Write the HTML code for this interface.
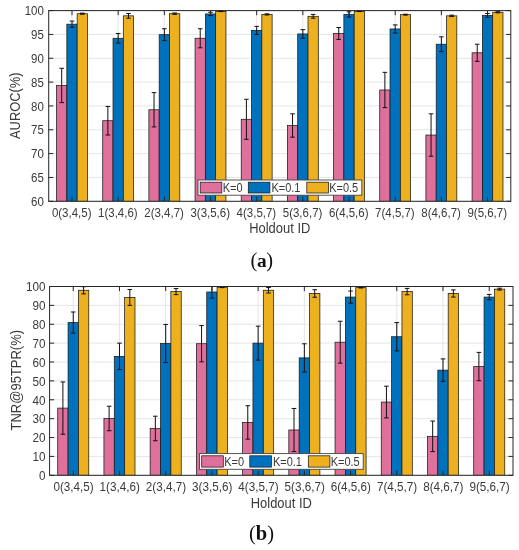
<!DOCTYPE html>
<html><head><meta charset="utf-8"><title>Figure</title>
<style>
html,body{margin:0;padding:0;background:#fff;}
body{width:519px;height:550px;overflow:hidden;}
svg{display:block;}
</style></head><body>
<svg width="519" height="550" viewBox="0 0 519 550">
<rect width="519" height="550" fill="#fff"/>
<g stroke="#e2e2e2" stroke-width="0.85">
<line x1="48.7" x2="510.8" y1="201.30" y2="201.30"/>
<line x1="48.7" x2="510.8" y1="177.46" y2="177.46"/>
<line x1="48.7" x2="510.8" y1="153.62" y2="153.62"/>
<line x1="48.7" x2="510.8" y1="129.79" y2="129.79"/>
<line x1="48.7" x2="510.8" y1="105.95" y2="105.95"/>
<line x1="48.7" x2="510.8" y1="82.11" y2="82.11"/>
<line x1="48.7" x2="510.8" y1="58.27" y2="58.27"/>
<line x1="48.7" x2="510.8" y1="34.44" y2="34.44"/>
<line x1="48.7" x2="510.8" y1="10.60" y2="10.60"/>
<line x1="72.00" x2="72.00" y1="10.6" y2="201.3"/>
<line x1="118.17" x2="118.17" y1="10.6" y2="201.3"/>
<line x1="164.34" x2="164.34" y1="10.6" y2="201.3"/>
<line x1="210.51" x2="210.51" y1="10.6" y2="201.3"/>
<line x1="256.68" x2="256.68" y1="10.6" y2="201.3"/>
<line x1="302.85" x2="302.85" y1="10.6" y2="201.3"/>
<line x1="349.02" x2="349.02" y1="10.6" y2="201.3"/>
<line x1="395.19" x2="395.19" y1="10.6" y2="201.3"/>
<line x1="441.36" x2="441.36" y1="10.6" y2="201.3"/>
<line x1="487.53" x2="487.53" y1="10.6" y2="201.3"/>
</g>
<clipPath id="cp1"><rect x="48.7" y="10.1" width="462.1" height="191.20000000000002"/></clipPath>
<g clip-path="url(#cp1)">
<rect x="56.55" y="85.45" width="10.30" height="115.85" fill="#DF6F9B" stroke="#1a1a1a" stroke-width="0.75"/>
<rect x="66.85" y="24.19" width="10.30" height="177.11" fill="#0072BD" stroke="#1a1a1a" stroke-width="0.75"/>
<rect x="77.15" y="13.70" width="10.30" height="187.60" fill="#EDB120" stroke="#1a1a1a" stroke-width="0.75"/>
<rect x="102.72" y="120.73" width="10.30" height="80.57" fill="#DF6F9B" stroke="#1a1a1a" stroke-width="0.75"/>
<rect x="113.02" y="38.25" width="10.30" height="163.05" fill="#0072BD" stroke="#1a1a1a" stroke-width="0.75"/>
<rect x="123.32" y="15.84" width="10.30" height="185.46" fill="#EDB120" stroke="#1a1a1a" stroke-width="0.75"/>
<rect x="148.89" y="109.76" width="10.30" height="91.54" fill="#DF6F9B" stroke="#1a1a1a" stroke-width="0.75"/>
<rect x="159.19" y="34.68" width="10.30" height="166.62" fill="#0072BD" stroke="#1a1a1a" stroke-width="0.75"/>
<rect x="169.49" y="13.70" width="10.30" height="187.60" fill="#EDB120" stroke="#1a1a1a" stroke-width="0.75"/>
<rect x="195.06" y="38.25" width="10.30" height="163.05" fill="#DF6F9B" stroke="#1a1a1a" stroke-width="0.75"/>
<rect x="205.36" y="13.94" width="10.30" height="187.36" fill="#0072BD" stroke="#1a1a1a" stroke-width="0.75"/>
<rect x="215.66" y="11.32" width="10.30" height="189.98" fill="#EDB120" stroke="#1a1a1a" stroke-width="0.75"/>
<rect x="241.23" y="119.30" width="10.30" height="82.00" fill="#DF6F9B" stroke="#1a1a1a" stroke-width="0.75"/>
<rect x="251.53" y="30.39" width="10.30" height="170.91" fill="#0072BD" stroke="#1a1a1a" stroke-width="0.75"/>
<rect x="261.83" y="14.41" width="10.30" height="186.89" fill="#EDB120" stroke="#1a1a1a" stroke-width="0.75"/>
<rect x="287.40" y="125.50" width="10.30" height="75.80" fill="#DF6F9B" stroke="#1a1a1a" stroke-width="0.75"/>
<rect x="297.70" y="33.96" width="10.30" height="167.34" fill="#0072BD" stroke="#1a1a1a" stroke-width="0.75"/>
<rect x="308.00" y="16.32" width="10.30" height="184.98" fill="#EDB120" stroke="#1a1a1a" stroke-width="0.75"/>
<rect x="333.57" y="33.48" width="10.30" height="167.82" fill="#DF6F9B" stroke="#1a1a1a" stroke-width="0.75"/>
<rect x="343.87" y="14.41" width="10.30" height="186.89" fill="#0072BD" stroke="#1a1a1a" stroke-width="0.75"/>
<rect x="354.17" y="11.32" width="10.30" height="189.98" fill="#EDB120" stroke="#1a1a1a" stroke-width="0.75"/>
<rect x="379.74" y="89.98" width="10.30" height="111.32" fill="#DF6F9B" stroke="#1a1a1a" stroke-width="0.75"/>
<rect x="390.04" y="28.95" width="10.30" height="172.35" fill="#0072BD" stroke="#1a1a1a" stroke-width="0.75"/>
<rect x="400.34" y="14.65" width="10.30" height="186.65" fill="#EDB120" stroke="#1a1a1a" stroke-width="0.75"/>
<rect x="425.91" y="135.03" width="10.30" height="66.27" fill="#DF6F9B" stroke="#1a1a1a" stroke-width="0.75"/>
<rect x="436.21" y="44.21" width="10.30" height="157.09" fill="#0072BD" stroke="#1a1a1a" stroke-width="0.75"/>
<rect x="446.51" y="15.84" width="10.30" height="185.46" fill="#EDB120" stroke="#1a1a1a" stroke-width="0.75"/>
<rect x="472.08" y="52.79" width="10.30" height="148.51" fill="#DF6F9B" stroke="#1a1a1a" stroke-width="0.75"/>
<rect x="482.38" y="15.37" width="10.30" height="185.93" fill="#0072BD" stroke="#1a1a1a" stroke-width="0.75"/>
<rect x="492.68" y="12.27" width="10.30" height="189.03" fill="#EDB120" stroke="#1a1a1a" stroke-width="0.75"/>
<path d="M61.70 68.29V102.61M59.40 68.29H64.00M59.40 102.61H64.00" stroke="#111" stroke-width="1" fill="none"/>
<path d="M72.00 21.09V27.29M69.70 21.09H74.30M69.70 27.29H74.30" stroke="#111" stroke-width="1" fill="none"/>
<path d="M82.30 13.13V14.27M80.00 13.13H84.60M80.00 14.27H84.60" stroke="#111" stroke-width="1" fill="none"/>
<path d="M107.87 106.43V135.03M105.57 106.43H110.17M105.57 135.03H110.17" stroke="#111" stroke-width="1" fill="none"/>
<path d="M118.17 33.48V43.02M115.87 33.48H120.47M115.87 43.02H120.47" stroke="#111" stroke-width="1" fill="none"/>
<path d="M128.47 13.46V18.23M126.17 13.46H130.77M126.17 18.23H130.77" stroke="#111" stroke-width="1" fill="none"/>
<path d="M154.04 92.60V126.93M151.74 92.60H156.34M151.74 126.93H156.34" stroke="#111" stroke-width="1" fill="none"/>
<path d="M164.34 28.72V40.64M162.04 28.72H166.64M162.04 40.64H166.64" stroke="#111" stroke-width="1" fill="none"/>
<path d="M174.64 12.98V14.41M172.34 12.98H176.94M172.34 14.41H176.94" stroke="#111" stroke-width="1" fill="none"/>
<path d="M200.21 28.72V47.79M197.91 28.72H202.51M197.91 47.79H202.51" stroke="#111" stroke-width="1" fill="none"/>
<path d="M210.51 12.27V15.61M208.21 12.27H212.81M208.21 15.61H212.81" stroke="#111" stroke-width="1" fill="none"/>
<path d="M220.81 11.08V11.55M218.51 11.08H223.11M218.51 11.55H223.11" stroke="#111" stroke-width="1" fill="none"/>
<path d="M246.38 99.28V139.32M244.08 99.28H248.68M244.08 139.32H248.68" stroke="#111" stroke-width="1" fill="none"/>
<path d="M256.68 26.33V34.44M254.38 26.33H258.98M254.38 34.44H258.98" stroke="#111" stroke-width="1" fill="none"/>
<path d="M266.98 13.84V14.99M264.68 13.84H269.28M264.68 14.99H269.28" stroke="#111" stroke-width="1" fill="none"/>
<path d="M292.55 113.82V137.18M290.25 113.82H294.85M290.25 137.18H294.85" stroke="#111" stroke-width="1" fill="none"/>
<path d="M302.85 29.67V38.25M300.55 29.67H305.15M300.55 38.25H305.15" stroke="#111" stroke-width="1" fill="none"/>
<path d="M313.15 14.41V18.23M310.85 14.41H315.45M310.85 18.23H315.45" stroke="#111" stroke-width="1" fill="none"/>
<path d="M338.72 27.52V39.44M336.42 27.52H341.02M336.42 39.44H341.02" stroke="#111" stroke-width="1" fill="none"/>
<path d="M349.02 11.79V17.04M346.72 11.79H351.32M346.72 17.04H351.32" stroke="#111" stroke-width="1" fill="none"/>
<path d="M359.32 11.08V11.55M357.02 11.08H361.62M357.02 11.55H361.62" stroke="#111" stroke-width="1" fill="none"/>
<path d="M384.89 72.34V107.62M382.59 72.34H387.19M382.59 107.62H387.19" stroke="#111" stroke-width="1" fill="none"/>
<path d="M395.19 24.90V33.01M392.89 24.90H397.49M392.89 33.01H397.49" stroke="#111" stroke-width="1" fill="none"/>
<path d="M405.49 14.18V15.13M403.19 14.18H407.79M403.19 15.13H407.79" stroke="#111" stroke-width="1" fill="none"/>
<path d="M431.06 113.82V156.25M428.76 113.82H433.36M428.76 156.25H433.36" stroke="#111" stroke-width="1" fill="none"/>
<path d="M441.36 36.82V51.60M439.06 36.82H443.66M439.06 51.60H443.66" stroke="#111" stroke-width="1" fill="none"/>
<path d="M451.66 15.13V16.56M449.36 15.13H453.96M449.36 16.56H453.96" stroke="#111" stroke-width="1" fill="none"/>
<path d="M477.23 44.21V61.37M474.93 44.21H479.53M474.93 61.37H479.53" stroke="#111" stroke-width="1" fill="none"/>
<path d="M487.53 13.46V17.27M485.23 13.46H489.83M485.23 17.27H489.83" stroke="#111" stroke-width="1" fill="none"/>
<path d="M497.83 11.70V12.84M495.53 11.70H500.13M495.53 12.84H500.13" stroke="#111" stroke-width="1" fill="none"/>
</g>
<rect x="48.7" y="10.6" width="462.1" height="190.70000000000002" fill="none" stroke="#262626" stroke-width="1"/>
<g stroke="#262626" stroke-width="1">
<line x1="48.7" x2="53.300000000000004" y1="201.30" y2="201.30"/>
<line x1="510.8" x2="506.2" y1="201.30" y2="201.30"/>
<line x1="48.7" x2="53.300000000000004" y1="177.46" y2="177.46"/>
<line x1="510.8" x2="506.2" y1="177.46" y2="177.46"/>
<line x1="48.7" x2="53.300000000000004" y1="153.62" y2="153.62"/>
<line x1="510.8" x2="506.2" y1="153.62" y2="153.62"/>
<line x1="48.7" x2="53.300000000000004" y1="129.79" y2="129.79"/>
<line x1="510.8" x2="506.2" y1="129.79" y2="129.79"/>
<line x1="48.7" x2="53.300000000000004" y1="105.95" y2="105.95"/>
<line x1="510.8" x2="506.2" y1="105.95" y2="105.95"/>
<line x1="48.7" x2="53.300000000000004" y1="82.11" y2="82.11"/>
<line x1="510.8" x2="506.2" y1="82.11" y2="82.11"/>
<line x1="48.7" x2="53.300000000000004" y1="58.27" y2="58.27"/>
<line x1="510.8" x2="506.2" y1="58.27" y2="58.27"/>
<line x1="48.7" x2="53.300000000000004" y1="34.44" y2="34.44"/>
<line x1="510.8" x2="506.2" y1="34.44" y2="34.44"/>
<line x1="48.7" x2="53.300000000000004" y1="10.60" y2="10.60"/>
<line x1="510.8" x2="506.2" y1="10.60" y2="10.60"/>
<line x1="72.00" x2="72.00" y1="10.6" y2="15.2"/>
<line x1="72.00" x2="72.00" y1="201.3" y2="196.70000000000002"/>
<line x1="118.17" x2="118.17" y1="10.6" y2="15.2"/>
<line x1="118.17" x2="118.17" y1="201.3" y2="196.70000000000002"/>
<line x1="164.34" x2="164.34" y1="10.6" y2="15.2"/>
<line x1="164.34" x2="164.34" y1="201.3" y2="196.70000000000002"/>
<line x1="210.51" x2="210.51" y1="10.6" y2="15.2"/>
<line x1="210.51" x2="210.51" y1="201.3" y2="196.70000000000002"/>
<line x1="256.68" x2="256.68" y1="10.6" y2="15.2"/>
<line x1="256.68" x2="256.68" y1="201.3" y2="196.70000000000002"/>
<line x1="302.85" x2="302.85" y1="10.6" y2="15.2"/>
<line x1="302.85" x2="302.85" y1="201.3" y2="196.70000000000002"/>
<line x1="349.02" x2="349.02" y1="10.6" y2="15.2"/>
<line x1="349.02" x2="349.02" y1="201.3" y2="196.70000000000002"/>
<line x1="395.19" x2="395.19" y1="10.6" y2="15.2"/>
<line x1="395.19" x2="395.19" y1="201.3" y2="196.70000000000002"/>
<line x1="441.36" x2="441.36" y1="10.6" y2="15.2"/>
<line x1="441.36" x2="441.36" y1="201.3" y2="196.70000000000002"/>
<line x1="487.53" x2="487.53" y1="10.6" y2="15.2"/>
<line x1="487.53" x2="487.53" y1="201.3" y2="196.70000000000002"/>
</g>
<g font-family="'Liberation Sans', Arial, sans-serif" fill="#3a3a3a" font-size="11.5">
<text transform="translate(43.9,205.96) scale(1,1.06)" text-anchor="end">60</text>
<text transform="translate(43.9,182.13) scale(1,1.06)" text-anchor="end">65</text>
<text transform="translate(43.9,158.29) scale(1,1.06)" text-anchor="end">70</text>
<text transform="translate(43.9,134.45) scale(1,1.06)" text-anchor="end">75</text>
<text transform="translate(43.9,110.61) scale(1,1.06)" text-anchor="end">80</text>
<text transform="translate(43.9,86.78) scale(1,1.06)" text-anchor="end">85</text>
<text transform="translate(43.9,62.94) scale(1,1.06)" text-anchor="end">90</text>
<text transform="translate(43.9,39.10) scale(1,1.06)" text-anchor="end">95</text>
<text transform="translate(43.9,15.26) scale(1,1.06)" text-anchor="end">100</text>
<text transform="translate(71.70,217.4) scale(1,1.06)" text-anchor="middle">0(3,4,5)</text>
<text transform="translate(117.87,217.4) scale(1,1.06)" text-anchor="middle">1(3,4,6)</text>
<text transform="translate(164.04,217.4) scale(1,1.06)" text-anchor="middle">2(3,4,7)</text>
<text transform="translate(210.21,217.4) scale(1,1.06)" text-anchor="middle">3(3,5,6)</text>
<text transform="translate(256.38,217.4) scale(1,1.06)" text-anchor="middle">4(3,5,7)</text>
<text transform="translate(302.55,217.4) scale(1,1.06)" text-anchor="middle">5(3,6,7)</text>
<text transform="translate(348.72,217.4) scale(1,1.06)" text-anchor="middle">6(4,5,6)</text>
<text transform="translate(394.89,217.4) scale(1,1.06)" text-anchor="middle">7(4,5,7)</text>
<text transform="translate(441.06,217.4) scale(1,1.06)" text-anchor="middle">8(4,6,7)</text>
<text transform="translate(487.23,217.4) scale(1,1.06)" text-anchor="middle">9(5,6,7)</text>
<text transform="translate(279.75,232.9) scale(1,1.11)" text-anchor="middle" font-size="12.95">Holdout ID</text>
<text transform="translate(19.8,105.70) rotate(-90) scale(1,1.08)" text-anchor="middle" font-size="12.9">AUROC(%)</text>
</g>
<rect x="198" y="180" width="163.8" height="15.199999999999989" fill="#fff" stroke="#444" stroke-width="0.9"/>
<rect x="200.20" y="182.20" width="21.6" height="10.80" fill="#DF6F9B" stroke="#1a1a1a" stroke-width="0.75"/>
<text transform="translate(222.70,192.28) scale(1,1.1)" font-family="'Liberation Sans', Arial, sans-serif" fill="#3a3a3a" font-size="11.0">K=0</text>
<rect x="248.30" y="182.20" width="21.6" height="10.80" fill="#0072BD" stroke="#1a1a1a" stroke-width="0.75"/>
<text transform="translate(271.40,192.28) scale(1,1.1)" font-family="'Liberation Sans', Arial, sans-serif" fill="#3a3a3a" font-size="11.0">K=0.1</text>
<rect x="306.80" y="182.20" width="21.6" height="10.80" fill="#EDB120" stroke="#1a1a1a" stroke-width="0.75"/>
<text transform="translate(329.20,192.28) scale(1,1.1)" font-family="'Liberation Sans', Arial, sans-serif" fill="#3a3a3a" font-size="11.0">K=0.5</text>
<text x="261.6" y="267.2" text-anchor="middle" font-family="'Liberation Serif', serif" font-size="20.5" fill="#111" letter-spacing="-0.35">(<tspan font-weight="bold" font-size="19.3">a</tspan>)</text>
<g stroke="#e2e2e2" stroke-width="0.85">
<line x1="49.6" x2="513.0" y1="475.30" y2="475.30"/>
<line x1="49.6" x2="513.0" y1="456.42" y2="456.42"/>
<line x1="49.6" x2="513.0" y1="437.54" y2="437.54"/>
<line x1="49.6" x2="513.0" y1="418.66" y2="418.66"/>
<line x1="49.6" x2="513.0" y1="399.78" y2="399.78"/>
<line x1="49.6" x2="513.0" y1="380.90" y2="380.90"/>
<line x1="49.6" x2="513.0" y1="362.02" y2="362.02"/>
<line x1="49.6" x2="513.0" y1="343.14" y2="343.14"/>
<line x1="49.6" x2="513.0" y1="324.26" y2="324.26"/>
<line x1="49.6" x2="513.0" y1="305.38" y2="305.38"/>
<line x1="49.6" x2="513.0" y1="286.50" y2="286.50"/>
<line x1="73.25" x2="73.25" y1="286.5" y2="475.3"/>
<line x1="119.47" x2="119.47" y1="286.5" y2="475.3"/>
<line x1="165.69" x2="165.69" y1="286.5" y2="475.3"/>
<line x1="211.91" x2="211.91" y1="286.5" y2="475.3"/>
<line x1="258.13" x2="258.13" y1="286.5" y2="475.3"/>
<line x1="304.35" x2="304.35" y1="286.5" y2="475.3"/>
<line x1="350.57" x2="350.57" y1="286.5" y2="475.3"/>
<line x1="396.79" x2="396.79" y1="286.5" y2="475.3"/>
<line x1="443.01" x2="443.01" y1="286.5" y2="475.3"/>
<line x1="489.23" x2="489.23" y1="286.5" y2="475.3"/>
</g>
<clipPath id="cp2"><rect x="49.6" y="286.0" width="463.4" height="189.3"/></clipPath>
<g clip-path="url(#cp2)">
<rect x="57.73" y="408.09" width="10.35" height="67.21" fill="#DF6F9B" stroke="#1a1a1a" stroke-width="0.75"/>
<rect x="68.08" y="322.56" width="10.35" height="152.74" fill="#0072BD" stroke="#1a1a1a" stroke-width="0.75"/>
<rect x="78.42" y="290.28" width="10.35" height="185.02" fill="#EDB120" stroke="#1a1a1a" stroke-width="0.75"/>
<rect x="103.94" y="418.47" width="10.35" height="56.83" fill="#DF6F9B" stroke="#1a1a1a" stroke-width="0.75"/>
<rect x="114.30" y="356.36" width="10.35" height="118.94" fill="#0072BD" stroke="#1a1a1a" stroke-width="0.75"/>
<rect x="124.64" y="297.45" width="10.35" height="177.85" fill="#EDB120" stroke="#1a1a1a" stroke-width="0.75"/>
<rect x="150.16" y="428.48" width="10.35" height="46.82" fill="#DF6F9B" stroke="#1a1a1a" stroke-width="0.75"/>
<rect x="160.51" y="343.52" width="10.35" height="131.78" fill="#0072BD" stroke="#1a1a1a" stroke-width="0.75"/>
<rect x="170.87" y="291.60" width="10.35" height="183.70" fill="#EDB120" stroke="#1a1a1a" stroke-width="0.75"/>
<rect x="196.38" y="343.71" width="10.35" height="131.59" fill="#DF6F9B" stroke="#1a1a1a" stroke-width="0.75"/>
<rect x="206.73" y="291.98" width="10.35" height="183.32" fill="#0072BD" stroke="#1a1a1a" stroke-width="0.75"/>
<rect x="217.09" y="287.26" width="10.35" height="188.04" fill="#EDB120" stroke="#1a1a1a" stroke-width="0.75"/>
<rect x="242.60" y="422.44" width="10.35" height="52.86" fill="#DF6F9B" stroke="#1a1a1a" stroke-width="0.75"/>
<rect x="252.95" y="343.14" width="10.35" height="132.16" fill="#0072BD" stroke="#1a1a1a" stroke-width="0.75"/>
<rect x="263.31" y="290.28" width="10.35" height="185.02" fill="#EDB120" stroke="#1a1a1a" stroke-width="0.75"/>
<rect x="288.83" y="429.99" width="10.35" height="45.31" fill="#DF6F9B" stroke="#1a1a1a" stroke-width="0.75"/>
<rect x="299.18" y="357.87" width="10.35" height="117.43" fill="#0072BD" stroke="#1a1a1a" stroke-width="0.75"/>
<rect x="309.53" y="293.49" width="10.35" height="181.81" fill="#EDB120" stroke="#1a1a1a" stroke-width="0.75"/>
<rect x="335.05" y="342.20" width="10.35" height="133.10" fill="#DF6F9B" stroke="#1a1a1a" stroke-width="0.75"/>
<rect x="345.39" y="297.07" width="10.35" height="178.23" fill="#0072BD" stroke="#1a1a1a" stroke-width="0.75"/>
<rect x="355.75" y="287.63" width="10.35" height="187.67" fill="#EDB120" stroke="#1a1a1a" stroke-width="0.75"/>
<rect x="381.26" y="402.05" width="10.35" height="73.25" fill="#DF6F9B" stroke="#1a1a1a" stroke-width="0.75"/>
<rect x="391.61" y="336.72" width="10.35" height="138.58" fill="#0072BD" stroke="#1a1a1a" stroke-width="0.75"/>
<rect x="401.96" y="291.60" width="10.35" height="183.70" fill="#EDB120" stroke="#1a1a1a" stroke-width="0.75"/>
<rect x="427.49" y="436.31" width="10.35" height="38.99" fill="#DF6F9B" stroke="#1a1a1a" stroke-width="0.75"/>
<rect x="437.83" y="370.14" width="10.35" height="105.16" fill="#0072BD" stroke="#1a1a1a" stroke-width="0.75"/>
<rect x="448.19" y="293.49" width="10.35" height="181.81" fill="#EDB120" stroke="#1a1a1a" stroke-width="0.75"/>
<rect x="473.71" y="366.55" width="10.35" height="108.75" fill="#DF6F9B" stroke="#1a1a1a" stroke-width="0.75"/>
<rect x="484.06" y="297.07" width="10.35" height="178.23" fill="#0072BD" stroke="#1a1a1a" stroke-width="0.75"/>
<rect x="494.41" y="289.14" width="10.35" height="186.16" fill="#EDB120" stroke="#1a1a1a" stroke-width="0.75"/>
<path d="M62.90 381.94V434.24M60.60 381.94H65.20M60.60 434.24H65.20" stroke="#111" stroke-width="1" fill="none"/>
<path d="M73.25 311.99V333.13M70.95 311.99H75.55M70.95 333.13H75.55" stroke="#111" stroke-width="1" fill="none"/>
<path d="M83.60 286.69V293.86M81.30 286.69H85.90M81.30 293.86H85.90" stroke="#111" stroke-width="1" fill="none"/>
<path d="M109.12 406.20V430.74M106.82 406.20H111.42M106.82 430.74H111.42" stroke="#111" stroke-width="1" fill="none"/>
<path d="M119.47 343.14V369.57M117.17 343.14H121.77M117.17 369.57H121.77" stroke="#111" stroke-width="1" fill="none"/>
<path d="M129.82 289.52V305.38M127.52 289.52H132.12M127.52 305.38H132.12" stroke="#111" stroke-width="1" fill="none"/>
<path d="M155.34 416.21V440.75M153.04 416.21H157.64M153.04 440.75H157.64" stroke="#111" stroke-width="1" fill="none"/>
<path d="M165.69 324.45V362.59M163.39 324.45H167.99M163.39 362.59H167.99" stroke="#111" stroke-width="1" fill="none"/>
<path d="M176.04 288.58V294.62M173.74 288.58H178.34M173.74 294.62H178.34" stroke="#111" stroke-width="1" fill="none"/>
<path d="M201.56 325.58V361.83M199.26 325.58H203.86M199.26 361.83H203.86" stroke="#111" stroke-width="1" fill="none"/>
<path d="M211.91 285.84V298.11M209.61 285.84H214.21M209.61 298.11H214.21" stroke="#111" stroke-width="1" fill="none"/>
<path d="M222.26 286.88V287.63M219.96 286.88H224.56M219.96 287.63H224.56" stroke="#111" stroke-width="1" fill="none"/>
<path d="M247.78 405.73V439.14M245.48 405.73H250.08M245.48 439.14H250.08" stroke="#111" stroke-width="1" fill="none"/>
<path d="M258.13 326.15V360.13M255.83 326.15H260.43M255.83 360.13H260.43" stroke="#111" stroke-width="1" fill="none"/>
<path d="M268.48 287.54V293.01M266.18 287.54H270.78M266.18 293.01H270.78" stroke="#111" stroke-width="1" fill="none"/>
<path d="M294.00 408.46V451.51M291.70 408.46H296.30M291.70 451.51H296.30" stroke="#111" stroke-width="1" fill="none"/>
<path d="M304.35 343.80V371.93M302.05 343.80H306.65M302.05 371.93H306.65" stroke="#111" stroke-width="1" fill="none"/>
<path d="M314.70 289.71V297.26M312.40 289.71H317.00M312.40 297.26H317.00" stroke="#111" stroke-width="1" fill="none"/>
<path d="M340.22 321.24V363.15M337.92 321.24H342.52M337.92 363.15H342.52" stroke="#111" stroke-width="1" fill="none"/>
<path d="M350.57 291.03V303.11M348.27 291.03H352.87M348.27 303.11H352.87" stroke="#111" stroke-width="1" fill="none"/>
<path d="M360.92 287.26V288.01M358.62 287.26H363.22M358.62 288.01H363.22" stroke="#111" stroke-width="1" fill="none"/>
<path d="M386.44 386.19V417.90M384.14 386.19H388.74M384.14 417.90H388.74" stroke="#111" stroke-width="1" fill="none"/>
<path d="M396.79 322.56V350.88M394.49 322.56H399.09M394.49 350.88H399.09" stroke="#111" stroke-width="1" fill="none"/>
<path d="M407.14 288.39V294.81M404.84 288.39H409.44M404.84 294.81H409.44" stroke="#111" stroke-width="1" fill="none"/>
<path d="M432.66 421.02V451.61M430.36 421.02H434.96M430.36 451.61H434.96" stroke="#111" stroke-width="1" fill="none"/>
<path d="M443.01 358.90V381.37M440.71 358.90H445.31M440.71 381.37H445.31" stroke="#111" stroke-width="1" fill="none"/>
<path d="M453.36 289.90V297.07M451.06 289.90H455.66M451.06 297.07H455.66" stroke="#111" stroke-width="1" fill="none"/>
<path d="M478.88 352.39V380.71M476.58 352.39H481.18M476.58 380.71H481.18" stroke="#111" stroke-width="1" fill="none"/>
<path d="M489.23 294.43V299.72M486.93 294.43H491.53M486.93 299.72H491.53" stroke="#111" stroke-width="1" fill="none"/>
<path d="M499.58 288.20V290.09M497.28 288.20H501.88M497.28 290.09H501.88" stroke="#111" stroke-width="1" fill="none"/>
</g>
<rect x="49.6" y="286.5" width="463.4" height="188.8" fill="none" stroke="#262626" stroke-width="1"/>
<g stroke="#262626" stroke-width="1">
<line x1="49.6" x2="54.2" y1="475.30" y2="475.30"/>
<line x1="513.0" x2="508.4" y1="475.30" y2="475.30"/>
<line x1="49.6" x2="54.2" y1="456.42" y2="456.42"/>
<line x1="513.0" x2="508.4" y1="456.42" y2="456.42"/>
<line x1="49.6" x2="54.2" y1="437.54" y2="437.54"/>
<line x1="513.0" x2="508.4" y1="437.54" y2="437.54"/>
<line x1="49.6" x2="54.2" y1="418.66" y2="418.66"/>
<line x1="513.0" x2="508.4" y1="418.66" y2="418.66"/>
<line x1="49.6" x2="54.2" y1="399.78" y2="399.78"/>
<line x1="513.0" x2="508.4" y1="399.78" y2="399.78"/>
<line x1="49.6" x2="54.2" y1="380.90" y2="380.90"/>
<line x1="513.0" x2="508.4" y1="380.90" y2="380.90"/>
<line x1="49.6" x2="54.2" y1="362.02" y2="362.02"/>
<line x1="513.0" x2="508.4" y1="362.02" y2="362.02"/>
<line x1="49.6" x2="54.2" y1="343.14" y2="343.14"/>
<line x1="513.0" x2="508.4" y1="343.14" y2="343.14"/>
<line x1="49.6" x2="54.2" y1="324.26" y2="324.26"/>
<line x1="513.0" x2="508.4" y1="324.26" y2="324.26"/>
<line x1="49.6" x2="54.2" y1="305.38" y2="305.38"/>
<line x1="513.0" x2="508.4" y1="305.38" y2="305.38"/>
<line x1="49.6" x2="54.2" y1="286.50" y2="286.50"/>
<line x1="513.0" x2="508.4" y1="286.50" y2="286.50"/>
<line x1="73.25" x2="73.25" y1="286.5" y2="291.1"/>
<line x1="73.25" x2="73.25" y1="475.3" y2="470.7"/>
<line x1="119.47" x2="119.47" y1="286.5" y2="291.1"/>
<line x1="119.47" x2="119.47" y1="475.3" y2="470.7"/>
<line x1="165.69" x2="165.69" y1="286.5" y2="291.1"/>
<line x1="165.69" x2="165.69" y1="475.3" y2="470.7"/>
<line x1="211.91" x2="211.91" y1="286.5" y2="291.1"/>
<line x1="211.91" x2="211.91" y1="475.3" y2="470.7"/>
<line x1="258.13" x2="258.13" y1="286.5" y2="291.1"/>
<line x1="258.13" x2="258.13" y1="475.3" y2="470.7"/>
<line x1="304.35" x2="304.35" y1="286.5" y2="291.1"/>
<line x1="304.35" x2="304.35" y1="475.3" y2="470.7"/>
<line x1="350.57" x2="350.57" y1="286.5" y2="291.1"/>
<line x1="350.57" x2="350.57" y1="475.3" y2="470.7"/>
<line x1="396.79" x2="396.79" y1="286.5" y2="291.1"/>
<line x1="396.79" x2="396.79" y1="475.3" y2="470.7"/>
<line x1="443.01" x2="443.01" y1="286.5" y2="291.1"/>
<line x1="443.01" x2="443.01" y1="475.3" y2="470.7"/>
<line x1="489.23" x2="489.23" y1="286.5" y2="291.1"/>
<line x1="489.23" x2="489.23" y1="475.3" y2="470.7"/>
</g>
<g font-family="'Liberation Sans', Arial, sans-serif" fill="#3a3a3a" font-size="11.7">
<text transform="translate(45.5,480.04) scale(1,1.06)" text-anchor="end">0</text>
<text transform="translate(45.5,461.16) scale(1,1.06)" text-anchor="end">10</text>
<text transform="translate(45.5,442.28) scale(1,1.06)" text-anchor="end">20</text>
<text transform="translate(45.5,423.40) scale(1,1.06)" text-anchor="end">30</text>
<text transform="translate(45.5,404.52) scale(1,1.06)" text-anchor="end">40</text>
<text transform="translate(45.5,385.64) scale(1,1.06)" text-anchor="end">50</text>
<text transform="translate(45.5,366.76) scale(1,1.06)" text-anchor="end">60</text>
<text transform="translate(45.5,347.88) scale(1,1.06)" text-anchor="end">70</text>
<text transform="translate(45.5,329.00) scale(1,1.06)" text-anchor="end">80</text>
<text transform="translate(45.5,310.12) scale(1,1.06)" text-anchor="end">90</text>
<text transform="translate(45.5,291.24) scale(1,1.06)" text-anchor="end">100</text>
<text transform="translate(73.55,491.1) scale(1,1.06)" text-anchor="middle">0(3,4,5)</text>
<text transform="translate(119.77,491.1) scale(1,1.06)" text-anchor="middle">1(3,4,6)</text>
<text transform="translate(165.99,491.1) scale(1,1.06)" text-anchor="middle">2(3,4,7)</text>
<text transform="translate(212.21,491.1) scale(1,1.06)" text-anchor="middle">3(3,5,6)</text>
<text transform="translate(258.43,491.1) scale(1,1.06)" text-anchor="middle">4(3,5,7)</text>
<text transform="translate(304.65,491.1) scale(1,1.06)" text-anchor="middle">5(3,6,7)</text>
<text transform="translate(350.87,491.1) scale(1,1.06)" text-anchor="middle">6(4,5,6)</text>
<text transform="translate(397.09,491.1) scale(1,1.06)" text-anchor="middle">7(4,5,7)</text>
<text transform="translate(443.31,491.1) scale(1,1.06)" text-anchor="middle">8(4,6,7)</text>
<text transform="translate(489.53,491.1) scale(1,1.06)" text-anchor="middle">9(5,6,7)</text>
<text transform="translate(281.30,507.9) scale(1,1.11)" text-anchor="middle" font-size="12.95">Holdout ID</text>
<text transform="translate(20.8,380.20) rotate(-90) scale(1,1.1)" text-anchor="middle" font-size="13.0">TNR@95TPR(%)</text>
</g>
<rect x="199.5" y="453.6" width="163.7" height="15.699999999999989" fill="#fff" stroke="#444" stroke-width="0.9"/>
<rect x="201.70" y="455.80" width="21.6" height="11.30" fill="#DF6F9B" stroke="#1a1a1a" stroke-width="0.75"/>
<text transform="translate(224.20,466.13) scale(1,1.1)" font-family="'Liberation Sans', Arial, sans-serif" fill="#3a3a3a" font-size="11.0">K=0</text>
<rect x="249.80" y="455.80" width="21.6" height="11.30" fill="#0072BD" stroke="#1a1a1a" stroke-width="0.75"/>
<text transform="translate(272.90,466.13) scale(1,1.1)" font-family="'Liberation Sans', Arial, sans-serif" fill="#3a3a3a" font-size="11.0">K=0.1</text>
<rect x="308.30" y="455.80" width="21.6" height="11.30" fill="#EDB120" stroke="#1a1a1a" stroke-width="0.75"/>
<text transform="translate(330.70,466.13) scale(1,1.1)" font-family="'Liberation Sans', Arial, sans-serif" fill="#3a3a3a" font-size="11.0">K=0.5</text>
<text x="261.5" y="539.7" text-anchor="middle" font-family="'Liberation Serif', serif" font-size="20.5" fill="#111">(<tspan font-weight="bold">b</tspan>)</text>
</svg>
</body></html>
